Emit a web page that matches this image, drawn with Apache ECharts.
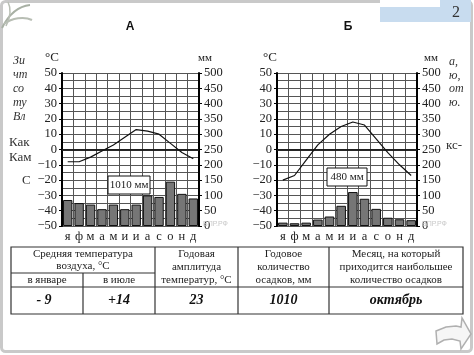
<!DOCTYPE html>
<html><head><meta charset="utf-8">
<script src="https://cdn.jsdelivr.net/npm/echarts@6/dist/echarts.min.js"></script>
<style>html,body{margin:0;padding:0;background:#fff}#c{width:474px;height:355px}</style>
</head><body><div id="c"></div>
<script>
const months = ['я','ф','м','а','м','и','и','а','с','о','н','д'];
const tempA = [-8, -8, -5, -1, 3, 8, 13, 12, 10, 4, -2, -6];
const precA = [85, 75, 70, 55, 70, 55, 70, 100, 95, 145, 105, 90];
const tempB = [-20, -17, -7, 3, 10, 15, 18, 16, 7, -2, -10, -17];
const precB = [11, 9, 11, 21, 31, 66, 111, 89, 56, 27, 22, 19];
const totalA = '1010 мм';
const totalB = '480 мм';
const tableHead1 = ['Средняя температура', 'воздуха, °C'];
const tableSub = ['в январе', 'в июле'];
const tableCols = [['Годовая','амплитуда','температур, °C'],['Годовое','количество','осадков, мм'],['Месяц, на который','приходится наибольшее','количество осадков']];
const tableValues = ['- 9', '+14', '23', '1010', 'октябрь'];

const serif = 'Liberation Serif, Times New Roman, serif';
const chart = echarts.init(document.getElementById('c'));

function xAx(gi){return {type:'category', gridIndex:gi, data:months, boundaryGap:true,
  axisLine:{lineStyle:{color:'#000', width:1.5}}, axisTick:{show:false},
  axisLabel:{color:'#222', fontFamily:serif, fontSize:12.5, margin:4, interval:0},
  splitLine:{show:true, interval:0, lineStyle:{color:'#555', width:1}}};}
function yL(gi){return {type:'value', gridIndex:gi, min:-50, max:50, interval:10,
  axisLine:{show:true, lineStyle:{color:'#000', width:2}},
  axisTick:{show:true, inside:false, length:3, lineStyle:{color:'#000'}},
  axisLabel:{color:'#222', fontFamily:serif, fontSize:12.5, margin:5, formatter:v=>String(v).replace('-','\u2212')},
  splitLine:{show:true, lineStyle:{color:'#555', width:1}},
  minorTick:{show:false, splitNumber:2},
  minorSplitLine:{show:true, lineStyle:{color:'#555', width:1}}};}
function yR(gi){return {type:'value', gridIndex:gi, position:'right', min:0, max:500, interval:50,
  axisLine:{show:true, lineStyle:{color:'#000', width:2}},
  axisTick:{show:true, inside:false, length:3, lineStyle:{color:'#000'}},
  axisLabel:{color:'#222', fontFamily:serif, fontSize:12.5, margin:5},
  splitLine:{show:false}};}

function barS(xi, yi, d){return {type:'bar', xAxisIndex:xi, yAxisIndex:yi, data:d, barCategoryGap:'18%',
  itemStyle:{color:'#767676', borderColor:'#111', borderWidth:1}, z:3, animation:false};}
function lineS(xi, yi, d){return {type:'line', xAxisIndex:xi, yAxisIndex:yi, data:d, symbol:'none',
  lineStyle:{color:'#111', width:1.2}, z:5, animation:false,
  markLine:{silent:true, symbol:'none', label:{show:false}, data:[{yAxis:0}], lineStyle:{color:'#222', width:1.6, type:'solid'}, animation:false}};}

function txt(x,y,t,opt){return {type:'text', x:x, y:y, silent:true, style:Object.assign({text:t, fill:'#222', font:'12px '+serif, textAlign:'left', textVerticalAlign:'middle'}, opt||{})};}

const g = [];
// frame
g.push({type:'rect', shape:{x:1.5, y:1.5, width:470, height:350, r:4}, style:{fill:'none', stroke:'#c9c9c9', lineWidth:3}});
// leaf decoration
g.push({type:'bezierCurve', shape:{x1:2, y1:28, x2:30, y2:5, cpx1:10, cpy1:12, cpx2:20, cpy2:6}, style:{stroke:'#a8b0a4', lineWidth:2, fill:'none'}});
g.push({type:'bezierCurve', shape:{x1:4, y1:24, x2:32, y2:20, cpx1:12, cpy1:18, cpx2:24, cpy2:16}, style:{stroke:'#b8beb4', lineWidth:2, fill:'none'}});
g.push({type:'bezierCurve', shape:{x1:8, y1:2, x2:6, y2:26, cpx1:12, cpy1:10, cpx2:10, cpy2:18}, style:{stroke:'#b8beb4', lineWidth:1.5, fill:'none'}});
// blue box
g.push({type:'rect', shape:{x:380, y:0, width:91, height:22}, style:{fill:'#c8dcef', stroke:'none'}});
g.push({type:'rect', shape:{x:380, y:0, width:60, height:7}, style:{fill:'#ffffff', stroke:'none'}});
g.push(txt(452, 13, '2', {font:'16px '+serif, fill:'#333'}));
// background text fragments
const lf = ['Зи','чт','со','ту','Вл'], ly=[61,75,89,103,117];
lf.forEach((t,i)=>g.push(txt(13, ly[i], t, {font:'italic 12px '+serif, fill:'#333'})));
g.push(txt(9, 143, 'Как', {fill:'#333', font:'13px '+serif}));
g.push(txt(9, 158, 'Кам', {fill:'#333', font:'13px '+serif}));
g.push(txt(22, 181, 'С', {fill:'#333', font:'13px '+serif}));
const rf = ['а,','ю,','от','ю.'], ry=[62,76,89,103];
rf.forEach((t,i)=>g.push(txt(449, ry[i], t, {font:'italic 12px '+serif, fill:'#333'})));
g.push(txt(446, 146, 'кс-', {fill:'#333', font:'13px '+serif}));
// titles & units
g.push(txt(130, 27, 'А', {font:'bold 12px Liberation Sans, Arial, sans-serif', textAlign:'center', fill:'#111'}));
g.push(txt(348, 27, 'Б', {font:'bold 12px Liberation Sans, Arial, sans-serif', textAlign:'center', fill:'#111'}));
g.push(txt(45, 58, '°C', {font:'13px '+serif}));
g.push(txt(198, 58, 'мм', {font:'11px '+serif}));
g.push(txt(263, 58, '°C', {font:'13px '+serif}));
g.push(txt(424, 58, 'мм', {font:'11px '+serif}));
// total boxes
g.push({type:'rect', z:100, shape:{x:108, y:176, width:42, height:18}, style:{fill:'#fff', stroke:'#111', lineWidth:1}});
g.push(Object.assign(txt(129, 185.5, totalA, {textAlign:'center', font:'11px '+serif}), {z:101}));
g.push({type:'rect', z:100, shape:{x:327, y:168, width:40, height:18}, style:{fill:'#fff', stroke:'#111', lineWidth:1}});
g.push(Object.assign(txt(347, 177.5, totalB, {textAlign:'center', font:'11px '+serif}), {z:101}));
// watermarks
g.push(Object.assign(txt(203, 224, 'ВПР.РФ', {font:'7px Liberation Sans, sans-serif', fill:'#c8c8c8'}), {z:50}));
g.push(Object.assign(txt(422, 224, 'ВПР.РФ', {font:'7px Liberation Sans, sans-serif', fill:'#c8c8c8'}), {z:50}));
// table
const L=11, R=463, T=247, M=273, H=287, B=314, c1=83, c2=155, c3=238, c4=329;
g.push({type:'rect', shape:{x:L, y:T, width:R-L, height:B-T}, style:{fill:'#fff', stroke:'#333', lineWidth:1.2}});
const lines=[[L,M,c2,M],[L,H,R,H],[c1,M,c1,B],[c2,T,c2,B],[c3,T,c3,B],[c4,T,c4,B]];
lines.forEach(l=>g.push({type:'line', shape:{x1:l[0],y1:l[1],x2:l[2],y2:l[3]}, style:{stroke:'#333', lineWidth:1.2}}));
const hs = {textAlign:'center', font:'11px '+serif, fill:'#222'};
g.push(txt((L+c2)/2, 254, tableHead1[0], hs));
g.push(txt((L+c2)/2, 266, tableHead1[1], hs));
g.push(txt((L+c1)/2, 280.5, tableSub[0], hs));
g.push(txt((c1+c2)/2, 280.5, tableSub[1], hs));
const cx=[(c2+c3)/2,(c3+c4)/2,(c4+R)/2];
tableCols.forEach((col,i)=>col.forEach((t,j)=>g.push(txt(cx[i], 254+j*13, t, hs))));
const vx=[(L+c1)/2-3,(c1+c2)/2,cx[0],cx[1],cx[2]];
tableValues.forEach((t,i)=>g.push(txt(vx[i], 300, t, {textAlign:'center', font:'bold italic 14px '+serif, fill:'#111'})));
// arrow decoration
g.push({type:'polygon', shape:{points:[[436,331],[446,327],[456,326],[461,327],[462,318],[471,334],[461,349],[460,341],[452,339],[444,340],[437,344]]}, style:{fill:'#f6f6f6', stroke:'#b0b0b0', lineWidth:1.5}});

chart.setOption({
  animation:false,
  backgroundColor:'#fff',
  grid:[{left:62, top:73, width:137, height:153}, {left:277, top:73, width:140, height:153}],
  xAxis:[xAx(0), xAx(1)],
  yAxis:[yL(0), yR(0), yL(1), yR(1)],
  series:[barS(0,1,precA), lineS(0,0,tempA), barS(1,3,precB), lineS(1,2,tempB)],
  graphic:g
});
</script></body></html>
